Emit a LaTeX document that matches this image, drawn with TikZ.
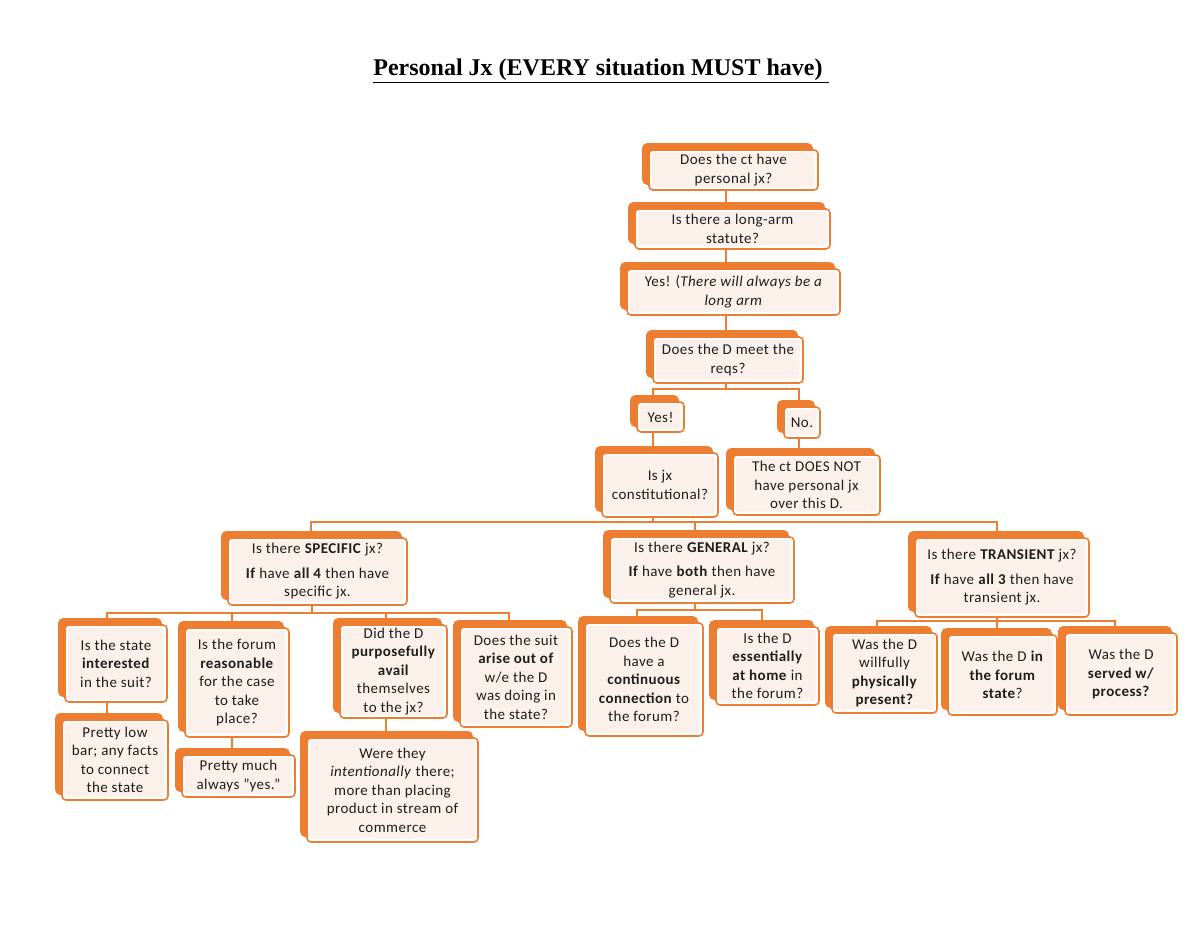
\documentclass[tikz,border=0pt]{standalone}
\usepackage{fontspec}
\setmainfont{Carlito}[LetterSpace=3]
\newfontfamily\titlefont{Liberation Serif}
\begin{document}
\begin{tikzpicture}[x=1pt,y=-1pt]
\definecolor{acc}{HTML}{ED7D31}
\definecolor{peach}{HTML}{FCF0EA}
\definecolor{ink}{HTML}{1E1E1E}
\tikzset{
  bx/.style={rectangle, rounded corners=4pt, draw=acc, line width=1.6pt, fill=white,
    align=center, inner sep=1pt, text=ink, font=\fontsize{15}{18.5}\selectfont,
    preaction={fill=acc, draw=acc, line width=1.6pt, transform canvas={shift={(-6pt,6pt)}}},
    path picture={\fill[peach, rounded corners=3pt] ([shift={(2.5pt,3.5pt)}]path picture bounding box.south west) rectangle ([shift={(-3.5pt,-2.5pt)}]path picture bounding box.north east);}},
  conn/.style={draw=acc, line width=2.4pt},
}
\useasboundingbox (0,0) rectangle (1200,927);
% title
\node[font=\titlefont\bfseries\fontsize{24}{27}\selectfont, text=black] (title) at (601,71) {\underline{Personal Jx (EVERY situation MUST have)\ }};
% top chain
\node[bx, minimum width=169, minimum height=40] (t1) at (733.5,170) {Does the ct have\\personal jx?};
\node[bx, minimum width=195, minimum height=40] (t2) at (732.5,229) {Is there a long-arm\\statute?};
\node[bx, minimum width=213, minimum height=46] (t3) at (733.5,292) {Yes! (\textit{There will always be a}\\\textit{long arm}};
\node[bx, minimum width=150, minimum height=46] (t4) at (728,360) {Does the D meet the\\reqs?};
\node[bx, minimum width=47, minimum height=30] (yes) at (660.5,417) {Yes!};
\node[bx, minimum width=36, minimum height=31] (no) at (802,422.5) {No.};
\node[bx, minimum width=116, minimum height=64] (isjx) at (660,485) {Is jx\\constitutional?};
\node[bx, minimum width=147, minimum height=60] (dnot) at (806.5,485) {The ct DOES NOT\\have personal jx\\over this D.};
% three kinds
\node[bx, minimum width=179, minimum height=67] (spec) at (317.5,571.5) {Is there \textbf{SPECIFIC} jx?\\[6pt]\textbf{If} have \textbf{all 4} then have\\specific jx.};
\node[bx, minimum width=184, minimum height=66] (gen) at (702,570) {Is there \textbf{GENERAL} jx?\\[6pt]\textbf{If} have \textbf{both} then have\\general jx.};
\node[bx, minimum width=174, minimum height=79] (tran) at (1002,577.5) {Is there \textbf{TRANSIENT} jx?\\[6pt]\textbf{If} have \textbf{all 3} then have\\transient jx.};
% specific children
\node[bx, minimum width=102, minimum height=77] (s1) at (116,663.5) {Is the state\\\textbf{interested}\\in the suit?};
\node[bx, minimum width=106, minimum height=80] (s1b) at (115,760) {Pretty low\\bar; any facts\\to connect\\the state};
\node[bx, minimum width=104, minimum height=109] (s2) at (237,682.5) {Is the forum\\\textbf{reasonable}\\for the case\\to take\\place?};
\node[bx, minimum width=113, minimum height=42] (s2b) at (238.5,776) {Pretty much\\always "yes."};
\node[bx, minimum width=107, minimum height=93] (s3) at (393.5,671.5) {Did the D\\\textbf{purposefully}\\\textbf{avail}\\themselves\\to the jx?};
\node[bx, minimum width=171, minimum height=104] (s3b) at (392.5,790) {Were they\\\textit{intentionally} there;\\more than placing\\product in stream of\\commerce};
\node[bx, minimum width=112, minimum height=100] (s4) at (516,677) {Does the suit\\\textbf{arise out of}\\w/e the D\\was doing in\\the state?};
% general children
\node[bx, minimum width=118, minimum height=113] (g1) at (644,679.5) {Does the D\\have a\\\textbf{continuous}\\\textbf{connection} to\\the forum?};
\node[bx, minimum width=103, minimum height=78] (g2) at (767.5,666) {Is the D\\\textbf{essentially}\\\textbf{at home} in\\the forum?};
% transient children
\node[bx, minimum width=105, minimum height=80] (r1) at (884.5,673) {Was the D\\willfully\\\textbf{physically}\\\textbf{present?}};
\node[bx, minimum width=109, minimum height=80] (r2) at (1002.5,675) {Was the D \textbf{in}\\\textbf{the forum}\\\textbf{state}?};
\node[bx, minimum width=112, minimum height=82] (r3) at (1121,674) {Was the D\\\textbf{served w/}\\\textbf{process?}};
% stem coordinates
\coordinate (xa) at (726,0);
\coordinate (xyes) at (653,0);
\coordinate (xno) at (799,0);
\coordinate (busA) at (0,389);
\coordinate (busB) at (0,522);
\coordinate (xspec) at (311,0);
\coordinate (xgen) at (695,0);
\coordinate (xtran) at (997,0);
\coordinate (busS) at (0,613);
\coordinate (x1) at (107,0);
\coordinate (x2) at (232,0);
\coordinate (x3) at (386,0);
\coordinate (x4) at (509,0);
\coordinate (busG) at (0,610);
\coordinate (xg1) at (637,0);
\coordinate (xg2) at (762,0);
\coordinate (busT) at (0,621);
\coordinate (xr1) at (877,0);
\coordinate (xr3) at (1115,0);
% connectors
\draw[conn] (t1.south -| xa) -- (t2.north -| xa);
\draw[conn] (t2.south -| xa) -- (t3.north -| xa);
\draw[conn] (t3.south -| xa) -- (t4.north -| xa);
\draw[conn] (t4.south -| xa) -- (busA -| xa);
\draw[conn] (yes.north -| xyes) -- (busA -| xyes) -- (busA -| xno) -- (no.north -| xno);
\draw[conn] (yes.south -| xyes) -- (isjx.north -| xyes);
\draw[conn] (no.south -| xno) -- (dnot.north -| xno);
\draw[conn] (isjx.south -| xyes) -- (busB -| xyes);
\draw[conn] (spec.north -| xspec) -- (busB -| xspec) -- (busB -| xtran) -- (tran.north -| xtran);
\draw[conn] (busB -| xgen) -- (gen.north -| xgen);
\draw[conn] (spec.south -| 312,0) -- (busS -| 312,0);
\draw[conn] (s1.north -| x1) -- (busS -| x1) -- (busS -| x4) -- (s4.north -| x4);
\draw[conn] (busS -| x2) -- (s2.north -| x2);
\draw[conn] (busS -| x3) -- (s3.north -| x3);
\draw[conn] (s1.south -| x1) -- (s1b.north -| x1);
\draw[conn] (s2.south -| x2) -- (s2b.north -| x2);
\draw[conn] (s3.south -| x3) -- (s3b.north -| x3);
\draw[conn] (gen.south -| xgen) -- (busG -| xgen);
\draw[conn] (g1.north -| xg1) -- (busG -| xg1) -- (busG -| xg2) -- (g2.north -| xg2);
\draw[conn] (tran.south -| xtran) -- (busT -| xtran);
\draw[conn] (r1.north -| xr1) -- (busT -| xr1) -- (busT -| xr3) -- (r3.north -| xr3);
\draw[conn] (busT -| xtran) -- (r2.north -| xtran);
\end{tikzpicture}
\end{document}
